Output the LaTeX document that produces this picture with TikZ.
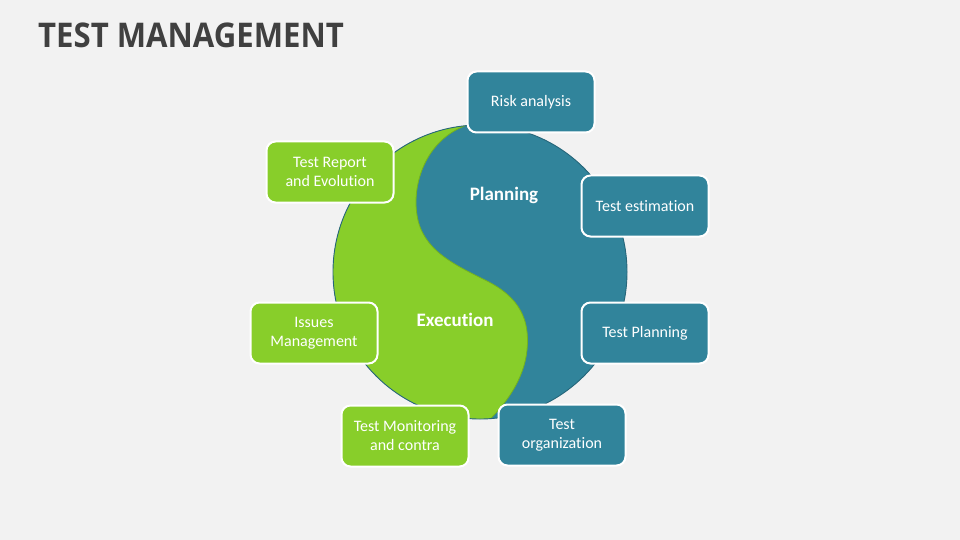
\documentclass[tikz,border=0pt]{standalone}
\usepackage{fontspec}
\setmainfont{Carlito}[Ligatures=NoCommon]
\newfontfamily\titlefont{Open Sans}
\definecolor{bgc}{HTML}{F2F2F2}
\definecolor{tblue}{HTML}{31849B}
\definecolor{tblueline}{HTML}{26667A}
\definecolor{tgreen}{HTML}{88CE2A}
\definecolor{tgreenline}{HTML}{74B21E}
\definecolor{titlec}{HTML}{404040}
\tikzset{
  box/.style={rounded corners=9pt, draw=white, line width=2pt, minimum width=127pt, minimum height=61pt, align=center, text=white, font=\fontsize{16}{19}\selectfont, inner sep=2pt},
  bluebox/.style={box, fill=tblue},
  greenbox/.style={box, fill=tgreen},
  biglabel/.style={text=white, font=\bfseries\fontsize{19}{22}\selectfont}
}
\begin{document}
\begin{tikzpicture}[x=1pt,y=-1pt]
\fill[bgc] (0,0) rectangle (960,540);
\useasboundingbox (0,0) rectangle (960,540);
\node[anchor=west, text=titlec, font=\titlefont\bfseries\fontsize{34}{40}\selectfont, inner sep=0pt] (title) at (38,35) {\scalebox{0.915}[1]{TEST MANAGEMENT}};
% circle
\coordinate (c) at (480,272);
\fill[tblue] (c) circle[radius=147];
\begin{scope}
\clip (c) circle[radius=147];
\fill[tgreen, draw=tgreenline, line width=0.8pt] (467,125) .. controls (425,140) and (412,185) .. (417,215) .. controls (422,250) and (455,265) .. (485,280) .. controls (520,297) and (530,320) .. (527,350) .. controls (524,380) and (505,405) .. (487,422) -- (320,430) -- (320,110) -- cycle;
\end{scope}
\draw[tblueline, line width=0.9pt] (c) circle[radius=147];
\node[biglabel] (plan) at (504,195) {Planning};
\node[biglabel] (exec) at (455,320) {Execution};
% boxes
\node[bluebox] (risk) at (531,102) {Risk analysis};
\node[bluebox] (est) at (645,206) {Test estimation};
\node[bluebox] (tplan) at (645,333) {Test Planning};
\node[bluebox] (org) at (562,435) {Test\\organization};
\node[greenbox] (mon) at (405,436) {Test Monitoring\\and contra};
\node[greenbox] (iss) at (314,333) {Issues\\Management};
\node[greenbox] (rep) at (330,172) {Test Report\\and Evolution};
\end{tikzpicture}
\end{document}
